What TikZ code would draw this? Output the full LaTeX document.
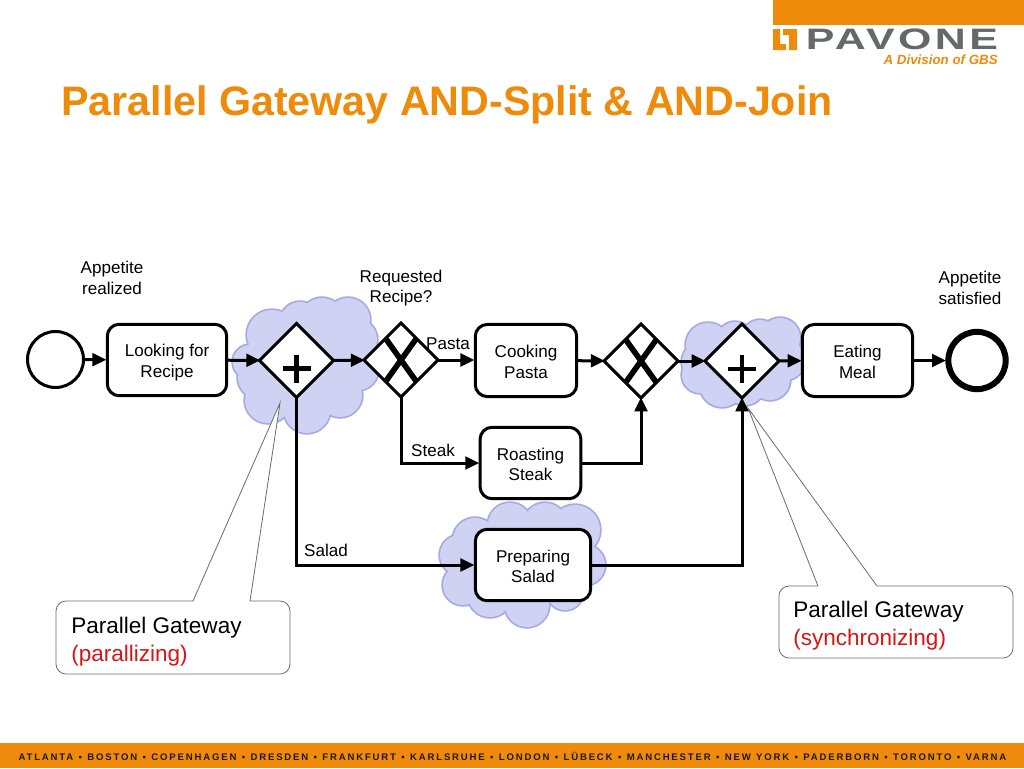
\documentclass[tikz,border=0pt]{standalone}
\usepackage{fontspec}
\setmainfont{Liberation Sans}
\usetikzlibrary{shapes.geometric,arrows.meta}
\definecolor{pav}{HTML}{EE8B0A}
\definecolor{cloudfill}{HTML}{CFD2F3}
\definecolor{cloudedge}{HTML}{A6AAE0}
\definecolor{pavgrey}{HTML}{66686A}
\definecolor{callred}{HTML}{D81414}
\newfontfamily\barfont[LetterSpace=19,WordSpace=1.2]{Liberation Sans Bold}
\newcommand{\puff}[1]{%
  \foreach \cx/\cy/\cr in {#1} \draw[cloudedge,line width=2.6pt] (\cx,\cy) circle[radius=\cr];
  \foreach \cx/\cy/\cr in {#1} \fill[cloudfill] (\cx,\cy) circle[radius=\cr];
}
\tikzset{
  task/.style={draw,line width=2.25pt,rounded corners=9pt,fill=white,inner sep=0pt},
  tasktext/.style={align=center,inner sep=0pt,font=\fontsize{12.8}{15.5}\selectfont,yshift=-1pt},
  gate/.style={draw,diamond,line width=2.25pt,fill=white,minimum width=55.5pt,minimum height=55.5pt,inner sep=0pt,outer sep=0pt},
  flow/.style={line width=2.25pt,-{Triangle[length=10.5pt,width=9.5pt]},shorten >=-0.5pt},
  lbl/.style={align=center,inner sep=0pt,font=\fontsize{12.8}{15.5}\selectfont},
  callout/.style={draw=gray!85!black,line width=0.6pt,fill=white},
  calltext/.style={align=left,anchor=west,inner sep=0pt,font=\fontsize{16.9}{21}\selectfont},
  xmark/.style={line width=4.2pt},
  plusmark/.style={line width=3.2pt}
}
\begin{document}
\begin{tikzpicture}[x=0.75pt,y=-0.75pt]
\useasboundingbox (0,0) rectangle (1024,768);
\fill[white] (0,0) rectangle (1024,768);
% header
\fill[pav] (773,0) rectangle (1024,25);
\fill[pav] (0,743) rectangle (1024,768);
\fill[pav] (773,29) -- (780,29) -- (780,44) -- (786,44) -- (786,50) -- (773,50) -- cycle;
\fill[pav] (783,29) -- (797,29) -- (797,50) -- (789,50) -- (789,35) -- (783,35) -- cycle;
\node[inner sep=0pt,text=pavgrey] (logo) at (902,39.5) {\resizebox{144pt}{15.5pt}{\bfseries\addfontfeature{LetterSpace=8}PAVONE}};
\node[inner sep=0pt,anchor=east,text=pav,font=\fontsize{10}{12}\selectfont\bfseries\itshape] (div) at (998,60) {A Division of GBS};
\node[inner sep=0pt,anchor=west,text=pav,font=\fontsize{30.9}{36}\selectfont\bfseries] (title) at (61,105) {Parallel Gateway AND-Split \& AND-Join};
\node[inner sep=0pt,text=black!85!pav,font=\fontsize{7.18}{9}\barfont] (cities) at (512.5,756) {ATLANTA ▪ BOSTON ▪ COPENHAGEN ▪ DRESDEN ▪ FRANKFURT ▪ KARLSRUHE ▪ LONDON ▪ LÜBECK ▪ MANCHESTER ▪ NEW YORK ▪ PADERBORN ▪ TORONTO ▪ VARNA};
% clouds
\puff{272/335/25,300/322/20,322/320/22,348/320/22,355/340/22,358/370/20,340/395/22,307/410/23,268/400/23,258/378/20,250/362/17,300/365/45}
\puff{475/540/22,510/525/22,545/525/22,575/530/25,585/565/20,565/592/18,527/605/22,490/595/22,463/585/20,460/555/20,525/565/45}
\puff{708/345/22,735/340/18,760/338/18,780/338/20,785/360/20,770/380/20,745/385/20,722/385/22,700/375/18,702/362/20,745/360/30}
% callouts
\draw[callout] (193,601) -- (280,403) -- (250,601) [rounded corners=7.5pt] -- (290,601) -- (290,674) -- (56,674) -- (56,601) [sharp corners] -- cycle;
\draw[callout] (818,586) -- (748,408) -- (877,586) [rounded corners=7.5pt] -- (1013,586) -- (1013,658) -- (779,658) -- (779,586) [sharp corners] -- cycle;
\node[calltext] (c1) at (71,642) {Parallel Gateway\\\textcolor{callred}{(parallizing)}};
\node[calltext] (c2) at (793,626) {Parallel Gateway\\\textcolor{callred}{(synchronizing)}};
% flow nodes
\node[draw,circle,line width=2.25pt,minimum size=42pt,inner sep=0pt,fill=white] (start) at (55.5,359.5) {};
\node[draw,circle,line width=4.5pt,minimum size=43pt,inner sep=0pt,fill=white] (finish) at (977,360.5) {};
\node[task,minimum width=89.6pt,minimum height=53.6pt,label={[tasktext,yshift=-0.75pt]center:{Looking for\\Recipe}}] (look) at (167,360) {};
\node[task,minimum width=76.1pt,minimum height=54.1pt,label={[tasktext]center:{Cooking\\Pasta}}] (cook) at (526,360.5) {};
\node[task,minimum width=75.6pt,minimum height=53.6pt,label={[tasktext]center:{Roasting\\Steak}}] (roast) at (530.5,463) {};
\node[task,minimum width=86.6pt,minimum height=53.6pt,label={[tasktext]center:{Preparing\\Salad}}] (prep) at (533,565) {};
\node[task,minimum width=82.6pt,minimum height=54.1pt,label={[tasktext]center:{Eating\\Meal}}] (eat) at (857.5,360.5) {};
\node[gate] (g1) at (296.5,360.5) {};
\node[gate] (g2) at (401,360) {};
\node[gate] (g3) at (641,361) {};
\node[gate] (g4) at (742,361) {};
\draw[plusmark,shift={(g1.center)}] (-14,8) -- (14,8) (0,-6) -- (0,22);
\draw[plusmark,shift={(g4.center)}] (-14,8) -- (14,8) (0,-6) -- (0,22);
\draw[xmark,shift={(g2.center)}] (-15,-21) -- (15,21) (15,-21) -- (-15,21);
\draw[xmark,shift={(g3.center)}] (-15,-21) -- (15,21) (15,-21) -- (-15,21);
% connectors
\draw[flow] (start) -- (look);
\draw[flow] (look) -- (g1);
\draw[flow] (g1) -- (g2);
\draw[flow] (g2) -- (g2 -| cook.west);
\draw[flow] (cook) -- (g3);
\draw[flow] (g3) -- (g4);
\draw[flow] (g4) -- (eat);
\draw[flow] (eat) -- (finish);
\draw[flow] (g2.south) |- (roast.west);
\draw[flow] (roast.east) -| (g3.south);
\draw[flow] (g1.south) |- (prep.west);
\draw[flow] (prep.east) -| (g4.south);
% labels
\node[lbl] (l1) at (112,278) {Appetite\\realized};
\node[lbl] (l2) at (401,288) {Requested\\Recipe?};
\node[lbl] (l3) at (970,288) {Appetite\\satisfied};
\node[lbl] (l4) at (448,344) {Pasta};
\node[lbl] (l5) at (433,450) {Steak};
\node[lbl] (l6) at (326,550) {Salad};
\end{tikzpicture}
\end{document}
